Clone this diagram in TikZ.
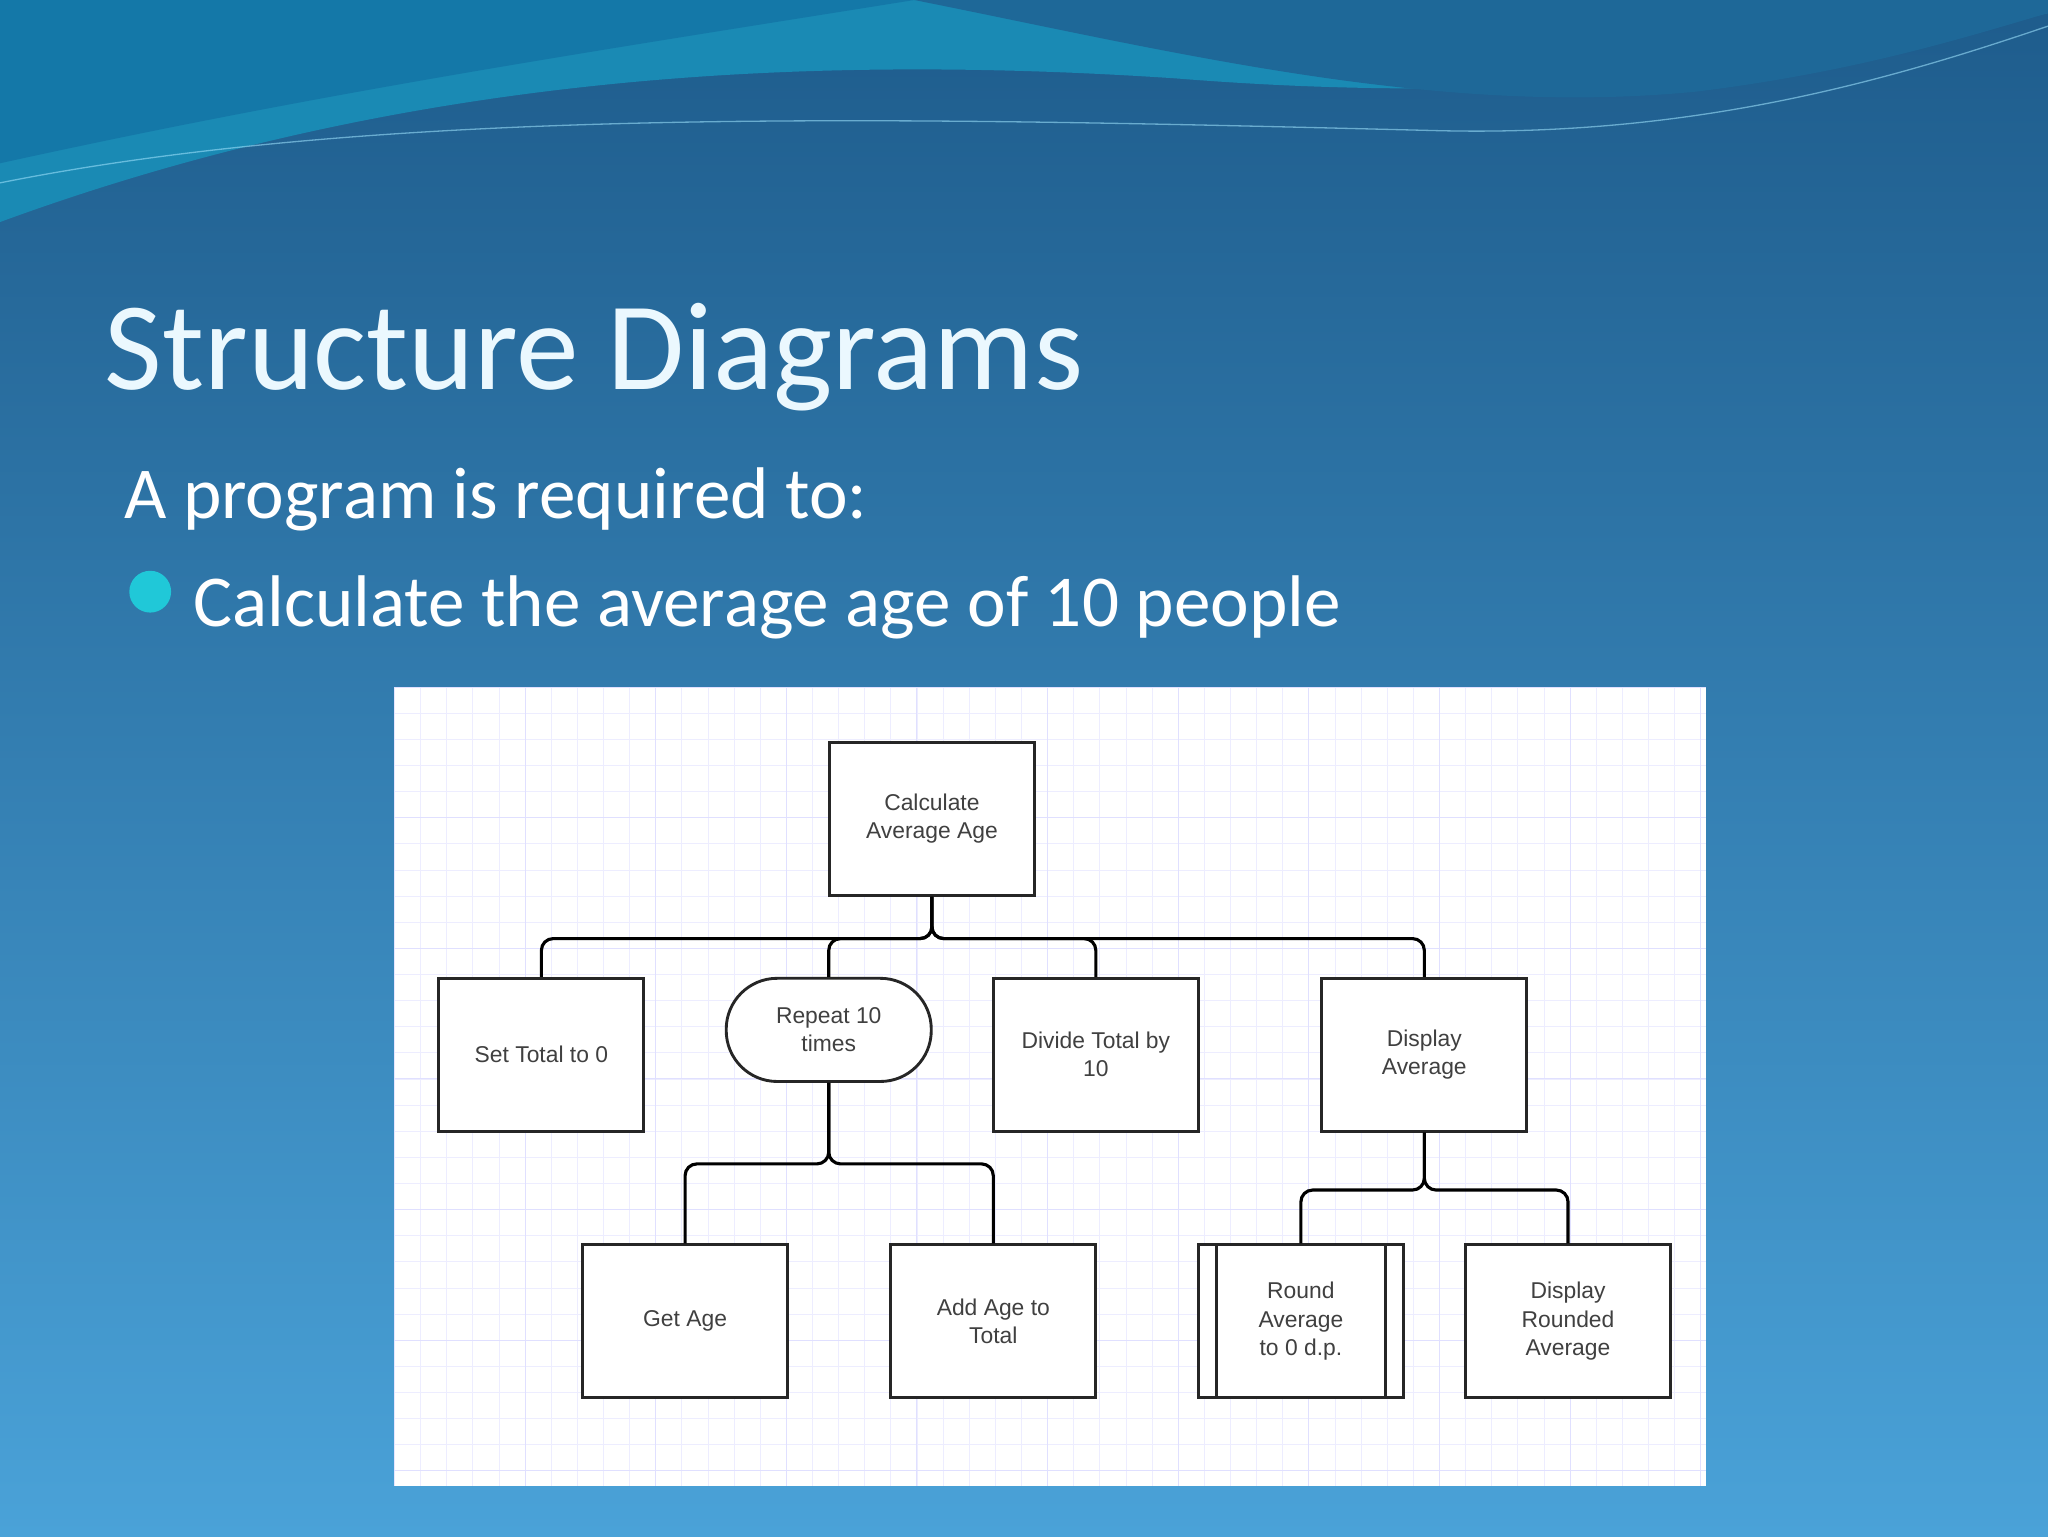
\documentclass[tikz,border=0pt]{standalone}
\usepackage{fontspec}
\setmainfont{Carlito}
\newfontfamily\nodefont{Liberation Sans}
\begin{document}
\begin{tikzpicture}[x=1pt,y=-1pt,
  box/.style={draw=black!85,line width=2.2pt,fill=white,minimum width=157pt,minimum height=117pt,align=center,font=\nodefont\fontsize{17.5}{21.5}\selectfont,text=black!75,inner sep=2pt},
  conn/.style={draw=black,line width=2.4pt,rounded corners=9pt}]
\definecolor{bgtop}{HTML}{1E5C8C}
\definecolor{bgbot}{HTML}{4AA2D8}
\definecolor{wave1}{HTML}{1A8AB4}
\definecolor{wave2}{HTML}{1478A8}
\definecolor{wave3}{HTML}{1E6898}
\definecolor{bull}{HTML}{20C8D8}
\useasboundingbox (0,0) rectangle (1568,1176);
\shade[top color=bgtop,bottom color=bgbot] (0,0) rectangle (1568,1176);
% top waves
\fill[wave1] (0,0) -- (0,170) .. controls (300,60) and (600,40) .. (900,60) .. controls (1150,80) and (1350,60) .. (1568,10) -- (1568,0) -- cycle;
\fill[wave2] (0,0) -- (0,125) .. controls (250,70) and (450,40) .. (700,0) -- cycle;
\fill[wave3] (700,0) .. controls (900,40) and (1100,90) .. (1300,70) .. controls (1420,55) and (1500,30) .. (1568,10) -- (1568,0) -- cycle;
\draw[cyan!40,opacity=0.6,line width=1pt] (0,140) .. controls (300,80) and (700,90) .. (1100,100) .. controls (1300,105) and (1450,60) .. (1568,20);
\node[anchor=base west,font=\fontsize{96}{106}\selectfont,text=cyan!8,inner sep=0pt] (title) at (80,298) {Structure Diagrams};
\node[anchor=base west,font=\fontsize{56}{66}\selectfont,text=white,inner sep=0pt] (sub) at (95,397) {A program is required to:};
\fill[color=bull] (115,453) circle (16);
\node[anchor=base west,font=\fontsize{56}{66}\selectfont,text=white,inner sep=0pt] (bul) at (148,480) {Calculate the average age of 10 people};
% panel
\fill[white] (302,526) rectangle (1306,1138);
\begin{scope}
\clip (302,526) rectangle (1306,1138);
\foreach \x in {302,322,...,1306} \draw[blue!7,line width=0.5pt] (\x,526) -- (\x,1138);
\foreach \y in {526,546,...,1138} \draw[blue!7,line width=0.5pt] (302,\y) -- (1306,\y);
\foreach \x in {302,402,...,1306} \draw[blue!12,line width=0.7pt] (\x,526) -- (\x,1138);
\foreach \y in {526,626,...,1138} \draw[blue!12,line width=0.7pt] (302,\y) -- (1306,\y);
\end{scope}
% nodes
\node[box] (calc) at (713.5,627) {Calculate\\Average Age};
\node[box] (set) at (414.5,807.5) {Set Total to 0};
\node[box,minimum height=79pt,rounded corners=39pt] (rep) at (634.5,788.5) {Repeat 10\\times};
\node[box] (div) at (839,807.5) {Divide Total by\\10};
\node[box] (disp) at (1090.5,807.5) {Display\\Average};
\node[box] (get) at (524.5,1011.5) {Get Age};
\node[box] (add) at (760.5,1011.5) {Add Age to\\Total};
\node[box] (round) at (996,1011.5) {Round\\Average\\to 0 d.p.};
\draw[black!85,line width=2.2pt] ([xshift=15pt]round.north west) -- ([xshift=15pt]round.south west)
  ([xshift=-15pt]round.north east) -- ([xshift=-15pt]round.south east);
\node[box] (drnd) at (1200.5,1011.5) {Display\\Rounded\\Average};
% connectors
\foreach \t in {set,rep,div,disp} \draw[conn] (calc.south) -- ++(0,32) -| (\t.north);
\foreach \t in {get,add} \draw[conn] (rep.south) -- ++(0,62) -| (\t.north);
\foreach \t in {round,drnd} \draw[conn] (disp.south) -- ++(0,44) -| (\t.north);
\end{tikzpicture}
\end{document}
